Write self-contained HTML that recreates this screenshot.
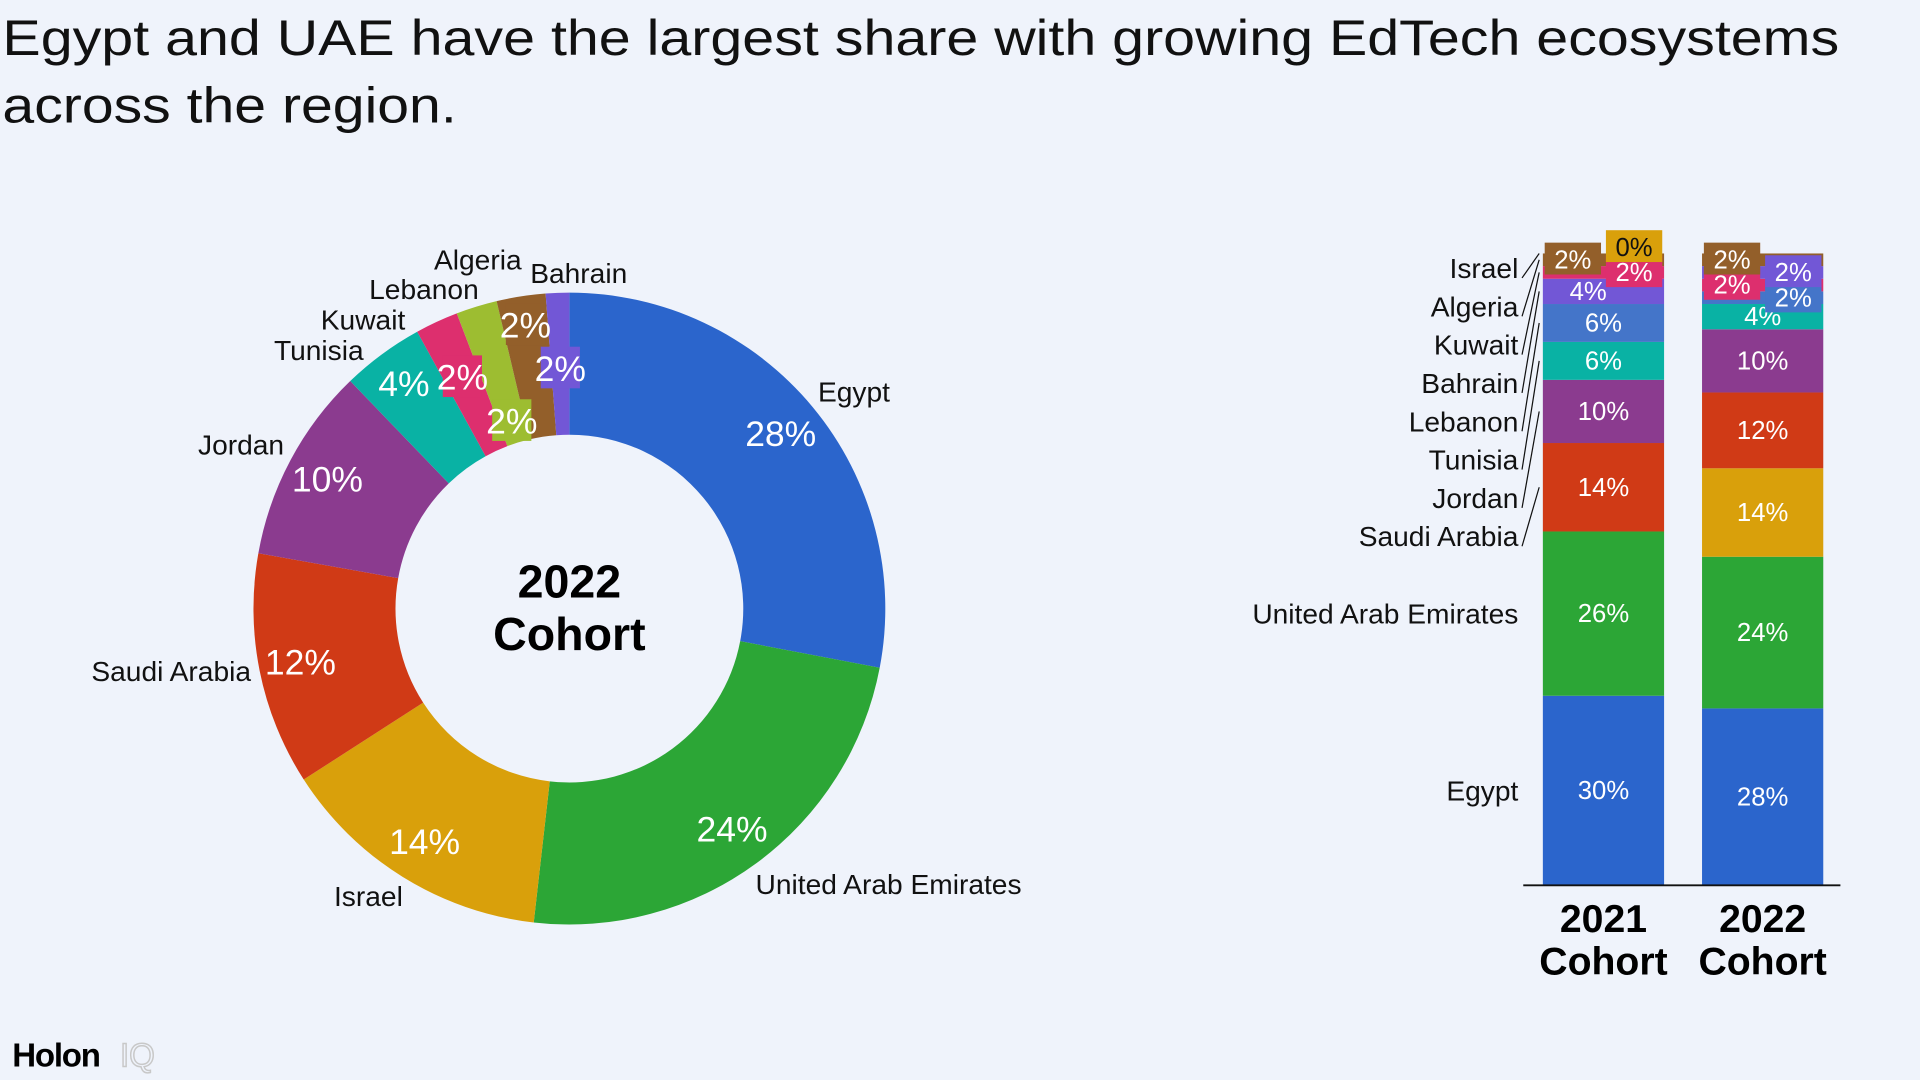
<!DOCTYPE html>
<html><head><meta charset="utf-8"><style>
html,body{margin:0;padding:0;background:#eff3fb;}
svg{display:block;font-family:"Liberation Sans",sans-serif;}
</style></head><body>
<svg id="chart" width="1920" height="1080" viewBox="0 0 1568 882" xmlns="http://www.w3.org/2000/svg">
<rect width="1568" height="882" fill="#eff3fb"/>
<text x="2" y="45" font-size="41" fill="#111" textLength="1500" lengthAdjust="spacingAndGlyphs">Egypt and UAE have the largest share with growing EdTech ecosystems</text>
<text x="2" y="100" font-size="41" fill="#111" textLength="371" lengthAdjust="spacingAndGlyphs">across the region.</text>
<g id="donut"></g>
<g id="bars"></g>
<g>
<text x="10" y="871" font-size="27" font-weight="bold" fill="#000" letter-spacing="-1">Holon</text>
<text x="98" y="871" font-size="27" fill="none" stroke="#c8c8c8" stroke-width="1.2">IQ</text>
</g>
</svg>
<script>
// ---- Donut data (2022 cohort) ----
const donutCountries = ["Egypt","United Arab Emirates","Israel","Saudi Arabia","Jordan","Tunisia","Kuwait","Lebanon","Algeria","Bahrain"];
const donutValues = [28.0,23.8,14.1,11.9,10.0,4.2,2.2,2.1,2.5,1.2];
const donutLabels = ["28%","24%","14%","12%","10%","4%","2%","2%","2%","2%"];
const donutColors = ["#2b65cc","#2ca636","#d9a00b","#d03a16","#8b3b8f","#09b2a4","#dd2f6e","#9dbd31","#935f2a","#7257d6"];
// ---- Bar data ----
const barCategories = ["2021 Cohort","2022 Cohort"];
const barCountries = ["Egypt","United Arab Emirates","Israel","Saudi Arabia","Jordan","Tunisia","Lebanon","Bahrain","Kuwait","Algeria"];
const values2021 = [30,26,0,14,10,6,6,4,2,2];
const values2022 = [28,24,14,12,10,4,2,2,2,2];
const barColors = ["#2b65cc","#2ca636","#d9a00b","#d03a16","#8b3b8f","#09b2a4","#4475c9","#7257d6","#dd2f6e","#935f2a"];
const order2021 = [0,1,3,4,5,6,7,8,9,2];
const order2022 = [0,1,2,3,4,5,6,8,7,9];
const leaderLabels = ["Israel","Algeria","Kuwait","Bahrain","Lebanon","Tunisia","Jordan","Saudi Arabia"];
const leaderIdx = [2,9,8,7,6,5,4,3];

const NS="http://www.w3.org/2000/svg";
function mk(tag,attrs,parent){const e=document.createElementNS(NS,tag);for(const k in attrs)e.setAttribute(k,attrs[k]);parent.appendChild(e);return e;}

// Donut
const dg=document.getElementById('donut');
const cx=465,cy=497,R=258,r=142;
const total=donutValues.reduce((a,b)=>a+b,0);
function pt(rad,a){return [cx+rad*Math.sin(a),cy-rad*Math.cos(a)];}
const labelR=[224,224,224,224,224,228,208,160,234,196];
const outerPos=[[668,328,'start'],[617,730,'start'],[329,740,'end'],[205,556,'end'],[232,371,'end'],[297,294,'end'],[331,269,'end'],[391,244,'end'],[426,220,'end'],[433,231,'start']];
let acc=0;
donutValues.forEach((v,i)=>{
  const a0=acc/total*2*Math.PI; acc+=v; const a1=acc/total*2*Math.PI;
  const large=(a1-a0)>Math.PI?1:0;
  const p0=pt(R,a0),p1=pt(R,a1),q1=pt(r,a1),q0=pt(r,a0);
  const p=mk('path',{d:`M${p0[0]},${p0[1]} A${R},${R} 0 ${large} 1 ${p1[0]},${p1[1]} L${q1[0]},${q1[1]} A${r},${r} 0 ${large} 0 ${q0[0]},${q0[1]} Z`,fill:donutColors[i]},dg);
  
  
});
acc=0;
donutValues.forEach((v,i)=>{
  const am=(acc+v/2)/total*2*Math.PI; acc+=v;
  const [lx,ly]=pt(labelR[i],am);
  if(v<5 && i!==5){
    const w=donutLabels[i].length*14+4;
    const b=mk('rect',{x:lx-w/2,y:ly-18,width:w,height:34,fill:donutColors[i]},dg);
    
    
  }
  const t=mk('text',{x:lx,y:ly+10,'font-size':29,fill:'#fff','text-anchor':'middle'},dg);
  t.textContent=donutLabels[i];
  
  
  const o=outerPos[i];
  const ol=mk('text',{x:o[0],y:o[1],'font-size':23,fill:'#111','text-anchor':o[2]},dg);
  ol.textContent=donutCountries[i];
  
  
});
const c1=mk('text',{x:cx,y:488,'font-size':38,'font-weight':'bold','text-anchor':'middle',fill:'#000'},dg);
c1.textContent='2022';


const c2=mk('text',{x:cx,y:531,'font-size':38,'font-weight':'bold','text-anchor':'middle',fill:'#000'},dg);
c2.textContent='Cohort';



// Bars
const bg=document.getElementById('bars');
const base=723,H=516;
function y(v){return base-v/100*H;}
const barX=[1260,1390],bw=99;
const series=[values2021,values2022],orders=[order2021,order2022];
const sides=[[0,0,0,0,0,0,-0.5,1,-1,1],[0,0,0,0,0,0,1,-1,1,-1]];
const segMid={};
series.forEach((vals,b)=>{
  let cum=0;
  orders[b].forEach((ci,k)=>{
    const v=vals[ci];const y0=y(cum),y1=y(cum+v);cum+=v;
    const s=mk('rect',{x:barX[b],y:y1,width:bw,height:Math.max(0,y0-y1),fill:barColors[ci]},bg);
    
    
    if(b===0) segMid[ci]=(y0+y1)/2;
  });
});
series.forEach((vals,b)=>{
  let cum=0;
  orders[b].forEach((ci,k)=>{
    const v=vals[ci];const y0=y(cum),y1=y(cum+v);cum+=v;
    const side=sides[b][k];
    const lx=barX[b]+bw/2+side*25;
    let ly=(y0+y1)/2+7;
    if(v===0) ly=y1+2;
    if(side===1||side===-1){
      const rb=mk('rect',{x:lx-23,y:ly-21,width:46,height:26,fill:barColors[ci]},bg);
      
      
    }
    const t=mk('text',{x:lx,y:ly,'font-size':21,fill:v===0?'#111':'#fff','text-anchor':'middle'},bg);
    t.textContent=v+'%';
    
    
  });
});
const ax=mk('line',{x1:1244,y1:723,x2:1503,y2:723,stroke:'#111','stroke-width':1.5},bg);


barCategories.forEach((c,b)=>{
  const parts=c.split(' ');
  parts.forEach((p,j)=>{
    const t=mk('text',{x:barX[b]+bw/2,y:761+j*35,'font-size':32,'font-weight':'bold','text-anchor':'middle',fill:'#000'},bg);
    t.textContent=p;
    
    
  });
});
leaderLabels.forEach((name,i)=>{
  const ly=219+31.3*i;
  const t=mk('text',{x:1240,y:ly+8,'font-size':23,'text-anchor':'end',fill:'#111'},bg);
  t.textContent=name;
  
  
  const ci=leaderIdx[i];
  const ty=ci===2?y(100):segMid[ci];
  const l=mk('line',{x1:1243,y1:ly+8,x2:1257,y2:ty,stroke:'#111','stroke-width':1},bg);
  
  
});
[["United Arab Emirates",1],["Egypt",0]].forEach(([name,ci])=>{
  const t=mk('text',{x:1240,y:segMid[ci]+8,'font-size':23,'text-anchor':'end',fill:'#111'},bg);
  t.textContent=name;
  
  
});
</script>
</body></html>
